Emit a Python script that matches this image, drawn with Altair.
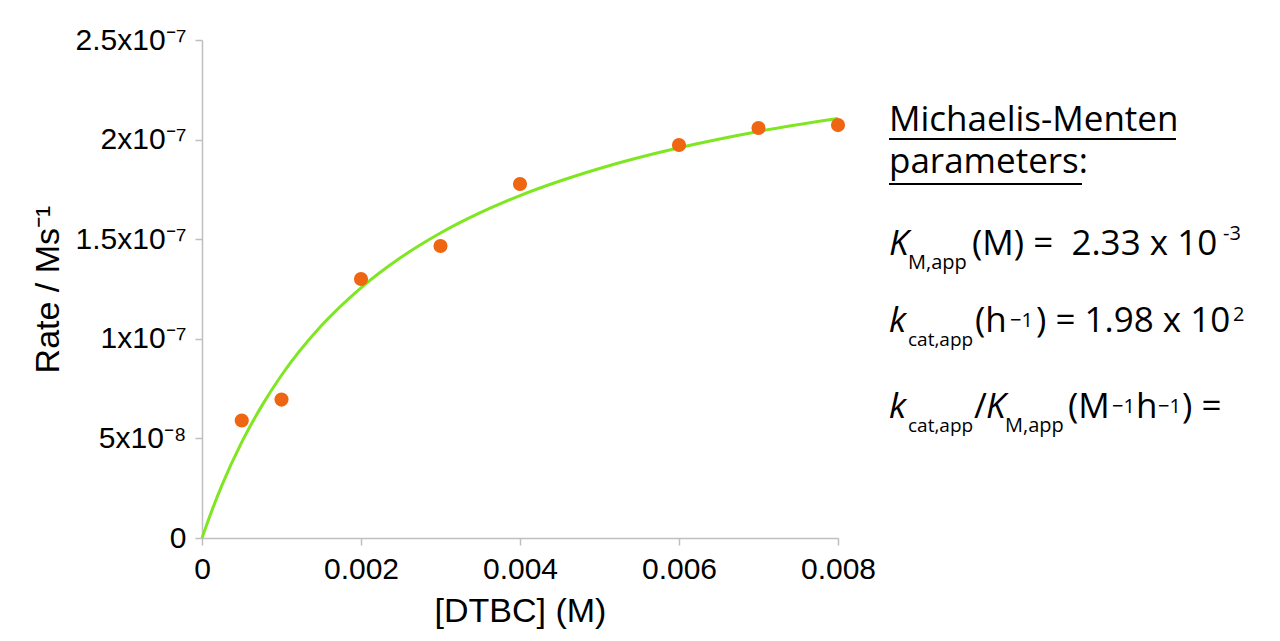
import altair as alt
import pandas as pd

# ---- data ----
dtbc = [0.0005, 0.001, 0.002, 0.003, 0.004, 0.006, 0.007, 0.008]
rate = [5.9e-8, 6.95e-8, 1.30e-7, 1.466e-7, 1.777e-7, 1.973e-7, 2.058e-7, 2.073e-7]

# fitted curve
curve_x = [0.0, 0.0001, 0.00025, 0.0005, 0.00075, 0.001, 0.0015, 0.002, 0.0025,
           0.003, 0.0035, 0.004, 0.005, 0.006, 0.007, 0.008]
curve_y = [0.0, 1.12e-8, 2.64e-8, 4.81e-8, 6.62e-8, 8.17e-8, 1.065e-7, 1.256e-7,
           1.408e-7, 1.531e-7, 1.633e-7, 1.719e-7, 1.855e-7, 1.959e-7, 2.041e-7, 2.106e-7]

x_ticks = [0, 0.002, 0.004, 0.006, 0.008]
y_ticks = [0, 5e-8, 1e-7, 1.5e-7, 2e-7, 2.5e-7]

pts = pd.DataFrame({"x": dtbc, "y": rate})
crv = pd.DataFrame({"x": curve_x, "y": curve_y})

W, H = 636, 498
AX = "Liberation Sans"
AF = "Open Sans"

xscale = alt.Scale(domain=[0, 0.008], nice=False)
yscale = alt.Scale(domain=[0, 2.5e-7], nice=False)

xaxis = alt.Axis(values=x_ticks, title="[DTBC] (M)", labelFlush=False,
                 labelExpr="datum.value == 0 ? '0' : format(datum.value, '.3f')",
                 titleX=W / 2, titleY=83, titleBaseline="alphabetic", titleAlign="center")
yaxis = alt.Axis(values=y_ticks, title="Rate / Ms⁻¹", labelFlush=False,
                 labelExpr="datum.value == 0 ? '0' : (datum.value < 1e-7 ? format(datum.value*1e8, '.2~g') + 'x10⁻⁸' : format(datum.value*1e7, '.2~g') + 'x10⁻⁷')",
                 titleX=-144, titleY=H / 2, titleAngle=270, titleBaseline="alphabetic",
                 titleAlign="center")

line = alt.Chart(crv).mark_line(color="#7fe622", strokeWidth=3, interpolate="monotone").encode(
    x=alt.X("x:Q", scale=xscale, axis=xaxis),
    y=alt.Y("y:Q", scale=yscale, axis=yaxis),
)
points = alt.Chart(pts).mark_circle(color="#ee6512", size=200, opacity=1).encode(
    x=alt.X("x:Q", scale=xscale),
    y=alt.Y("y:Q", scale=yscale),
)

def txt(s, px, py, size=35, italic=False):
    return alt.Chart(pd.DataFrame({"t": [s]})).mark_text(
        align="left", baseline="alphabetic", font=AF, fontSize=size,
        fontStyle="italic" if italic else "normal", color="black",
    ).encode(text="t:N", x=alt.value(px - 202), y=alt.value(py - 40))

def uline(x1, x2, py):
    return alt.Chart(pd.DataFrame({"a": [0]})).mark_rule(color="black", strokeWidth=2).encode(
        x=alt.value(x1 - 202), x2=alt.value(x2 - 202), y=alt.value(py - 40))

S = 20
S2 = 19
NB = "\u00a0"
notes = [
    txt("Michaelis-Menten", 889, 131), uline(889, 1176, 139),
    txt("parameters:", 889, 173), uline(889, 1082, 184),
    # line 3
    txt("K", 889, 255, italic=True), txt("M,app", 908, 269, S),
    txt("(M)" + NB + "=" + NB + NB + "2.33" + NB + "x" + NB + "10", 972, 255), txt("-3", 1223, 240, S),
    # line 4
    txt("k", 889, 332, italic=True), txt("cat,app", 908, 346, S2),
    txt("(h", 975, 332), txt("−1", 1010, 327, S),
    txt(")" + NB + "=" + NB + "1.98" + NB + "x" + NB + "10", 1036, 332), txt("2", 1233, 321, S),
    # line 5
    txt("k", 889, 418, italic=True), txt("cat,app", 908, 432, S2),
    txt("/", 974, 418), txt("K", 986, 418, italic=True), txt("M,app", 1005, 432, S),
    txt("(M", 1068, 418), txt("−1", 1112, 413, S), txt("h", 1136, 418),
    txt("−1", 1158, 413, S), txt(")" + NB + "=", 1182, 418),
]

chart = alt.layer(line, points, *notes).properties(
    width=W, height=H,
    autosize=alt.AutoSizeParams(type="none"),
    padding={"left": 194, "top": 32, "right": 430, "bottom": 95},
).configure_view(stroke=None).configure_axis(
    grid=False, domainColor="#bfbfbf", tickColor="#bfbfbf", domainWidth=1.5, tickWidth=1.5,
    tickSize=7, labelFont=AX, labelFontSize=30, labelColor="black", labelPadding=9,
    titleFont=AX, titleFontSize=34, titleFontWeight="normal", titleColor="black",
)

chart.save("out.html", embed_options={"renderer": "svg", "actions": False})
